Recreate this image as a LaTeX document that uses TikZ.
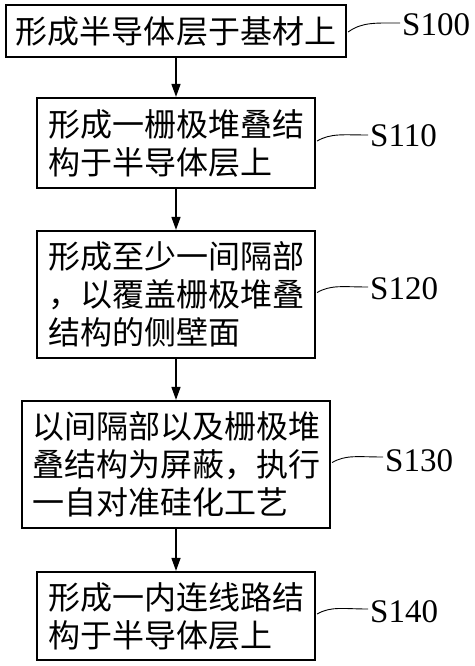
\documentclass[tikz,border=0pt]{standalone}
\usepackage{fontspec}
\setmainfont{Liberation Serif}
\newfontfamily\cjk{Noto Sans CJK SC}
\usetikzlibrary{arrows.meta,calc}
\tikzset{
  stepbox/.style={draw=black, line width=2.2pt, fill=white, inner sep=0pt,
    align=left, font=\cjk\fontsize{32}{38}\selectfont},
  flow/.style={line width=1.5pt, -{Triangle[length=13pt,width=9pt]}},
  leader/.style={line width=0.9pt},
  steplabel/.style={anchor=west, inner sep=0pt, font=\fontsize{33}{36}\selectfont}
}
\begin{document}
\begin{tikzpicture}[x=1pt,y=-1pt]
\useasboundingbox (0,0) rectangle (474,666);
\node[stepbox, minimum width=340pt, minimum height=52pt] (b1) at (176,31) {形成半导体层于基材上};
\node[stepbox, minimum width=278pt, minimum height=90pt] (b2) at (176,143) {形成一栅极堆叠结\\构于半导体层上};
\node[stepbox, minimum width=278pt, minimum height=127pt] (b3) at (176,294.5) {形成至少一间隔部\\，以覆盖栅极堆叠\\结构的侧壁面};
\node[stepbox, minimum width=308pt, minimum height=127pt] (b4) at (176,464.5) {以间隔部以及栅极堆\\叠结构为屏蔽，执行\\一自对准硅化工艺};
\node[stepbox, minimum width=278pt, minimum height=88pt] (b5) at (176,616) {形成一内连线路结\\构于半导体层上};

\node[steplabel] (l1) at (402,25) {S100};
\node[steplabel] (l2) at (370,136) {S110};
\node[steplabel] (l3) at (370,289) {S120};
\node[steplabel] (l4) at (385,461) {S130};
\node[steplabel] (l5) at (370,612) {S140};

\draw[flow] (b1.south) -- (b2.north);
\draw[flow] (b2.south) -- (b3.north);
\draw[flow] (b3.south) -- (b4.north);
\draw[flow] (b4.south) -- (b5.north);

\draw[leader] ($(b1.east)+(1,1)$) .. controls +(14,-10) and +(-25,0) .. ($(l1.west)+(-2,-2)$);
\draw[leader] ($(b2.east)+(1,-2)$) .. controls +(14,-8) and +(-25,0) .. ($(l2.west)+(-2,-1)$);
\draw[leader] ($(b3.east)+(1,-2)$) .. controls +(14,-8) and +(-25,0) .. ($(l3.west)+(-2,-2)$);
\draw[leader] ($(b4.east)+(1,-2)$) .. controls +(14,-8) and +(-25,0) .. ($(l4.west)+(-2,-4)$);
\draw[leader] ($(b5.east)+(1,-2)$) .. controls +(14,-8) and +(-25,0) .. ($(l5.west)+(-2,-3)$);
\end{tikzpicture}
\end{document}
